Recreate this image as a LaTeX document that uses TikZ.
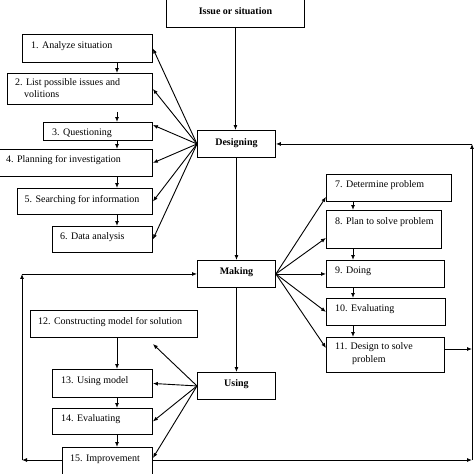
\documentclass[tikz,border=0pt]{standalone}
\usepackage{fontspec}
\setmainfont{Liberation Serif}
\usetikzlibrary{arrows.meta,calc}
\begin{document}
\begin{tikzpicture}[x=1pt,y=-1pt,
  box/.style={draw, line width=0.9pt, inner sep=0pt, anchor=north west},
  txt/.style={inner sep=0pt, anchor=base west, font=\fontsize{10}{12}\selectfont},
  btxt/.style={inner sep=0pt, anchor=base, font=\fontsize{10}{12}\selectfont\bfseries},
  arr/.style={line width=0.9pt, -{Latex[length=5pt,width=4pt]}},
  ln/.style={line width=0.9pt}]
\useasboundingbox (0,0) rectangle (474,474);
% main boxes
\node[box, minimum width=138pt, minimum height=32pt] (issue) at (166,-5) {};
\node[btxt] (tissue) at ($(issue.north)+(0,19)$) {Issue or situation};
\node[box, minimum width=78pt, minimum height=27pt] (des) at (197,130) {};
\node[btxt] (tdes) at ($(des.north)+(0,15)$) {Designing};
\node[box, minimum width=78pt, minimum height=27pt] (mak) at (197,260) {};
\node[btxt] (tmak) at ($(mak.north)+(0,14)$) {Making};
\node[box, minimum width=78pt, minimum height=27pt] (usi) at (197,372) {};
\node[btxt] (tusi) at ($(usi.north)+(0,14)$) {Using};
% designing column
\node[box, minimum width=130pt, minimum height=28pt] (b1) at (22,34) {};
\node[txt] (t1) at ($(b1.north west)+(9,14.5)$) {1. Analyze situation};
\node[box, minimum width=145pt, minimum height=31pt] (b2) at (7,73) {};
\node[txt] (t2) at ($(b2.north west)+(8,12.5)$) {2. List possible issues and};
\node[txt] (t2b) at ($(b2.north west)+(17,24.5)$) {volitions};
\node[box, minimum width=109pt, minimum height=18pt] (b3) at (43,122) {};
\node[txt] (t3) at ($(b3.north west)+(9,13)$) {3. Questioning};
\node[box, minimum width=153pt, minimum height=27pt] (b4) at (-1,149) {};
\node[txt] (t4) at ($(b4.north west)+(7,13)$) {4. Planning for investigation};
\node[box, minimum width=135pt, minimum height=26pt] (b5) at (17,188) {};
\node[txt] (t5) at ($(b5.north west)+(7.5,14)$) {5. Searching for information};
\node[box, minimum width=100pt, minimum height=26pt] (b6) at (52,226) {};
\node[txt] (t6) at ($(b6.north west)+(8,13)$) {6. Data analysis};
% making column
\node[box, minimum width=125pt, minimum height=27pt] (b7) at (326,174) {};
\node[txt] (t7) at ($(b7.north west)+(9,13)$) {7. Determine problem};
\node[box, minimum width=115pt, minimum height=38pt] (b8) at (326,210) {};
\node[txt] (t8) at ($(b8.north west)+(9,14)$) {8. Plan to solve problem};
\node[box, minimum width=118pt, minimum height=27pt] (b9) at (326,260) {};
\node[txt] (t9) at ($(b9.north west)+(9,13)$) {9. Doing};
\node[box, minimum width=119pt, minimum height=27pt] (b10) at (326,298) {};
\node[txt] (t10) at ($(b10.north west)+(9,13)$) {10. Evaluating};
\node[box, minimum width=118pt, minimum height=35pt] (b11) at (326,337) {};
\node[txt] (t11) at ($(b11.north west)+(9,12)$) {11. Design to solve};
\node[txt] (t11b) at ($(b11.north west)+(26,25)$) {problem};
% using column
\node[box, minimum width=167pt, minimum height=27pt] (b12) at (30,310) {};
\node[txt] (t12) at ($(b12.north west)+(8,14)$) {12. Constructing model for solution};
\node[box, minimum width=100pt, minimum height=28pt] (b13) at (52,369) {};
\node[txt] (t13) at ($(b13.north west)+(9,14)$) {13. Using model};
\node[box, minimum width=100pt, minimum height=26pt] (b14) at (52,408) {};
\node[txt] (t14) at ($(b14.north west)+(9,13)$) {14. Evaluating};
\node[box, minimum width=90pt, minimum height=33pt] (b15) at (62,447) {};
\node[txt] (t15) at ($(b15.north west)+(8,14)$) {15. Improvement};
% helper coordinates
\coordinate (lx) at (117,0);
\coordinate (rx) at (353,0);
\coordinate (rbot) at (472,460);
\coordinate (lbot) at (22,460);
\coordinate (rtop) at (des.east -| rbot);
\coordinate (ltop) at (mak.west -| lbot);
\coordinate (c12) at ($(b13.north east)+(0,-25)$);
% main spine
\draw[arr] (issue.south |- issue.south) -- (issue.south |- des.north);
\draw[arr] (des.south) -- (mak.north);
\draw[arr] (mak.south) -- (usi.north);
% designing fan
\draw[arr] (des.west) -- (b1.east);
\draw[arr] (des.west) -- (b2.east);
\draw[arr] (des.west) -- ([yshift=-3pt]b3.north east);
\draw[arr] (des.west) -- (b4.east);
\draw[arr] (des.west) -- (b5.east);
\draw[arr] (des.west) -- (b6.east);
% designing chain
\draw[arr] (b1.south -| lx) -- (b2.north -| lx);
\draw[arr] ($(b2.south -| lx)+(0,7)$) -- (b3.north -| lx);
\draw[arr] (b3.south -| lx) -- (b4.north -| lx);
\draw[arr] (b4.south -| lx) -- (b5.north -| lx);
\draw[arr] (b5.south -| lx) -- (b6.north -| lx);
% making fan
\draw[arr] (mak.east) -- ([yshift=5pt]b7.south west);
\draw[arr] (mak.east) -- ([yshift=11pt]b8.south west);
\draw[arr] (mak.east) -- (b9.west);
\draw[arr] (mak.east) -- (b10.west);
\draw[arr] (mak.east) -- ([yshift=-11pt]b11.north west);
% making chain
\draw[arr] (b7.south -| rx) -- (b8.north -| rx);
\draw[arr] (b8.south -| rx) -- (b9.north -| rx);
\draw[arr] (b9.south -| rx) -- (b10.north -| rx);
\draw[arr] (b10.south -| rx) -- (b11.north -| rx);
% using fan
\draw[arr] (usi.west) -- (c12);
\draw[arr] (usi.west) -- (b13.east);
\draw[arr] (usi.west) -- (b14.east);
\draw[arr] (usi.west) -- ([yshift=-11pt]b15.north east);
% using chain
\draw[arr] (b12.south -| lx) -- (b13.north -| lx);
\draw[arr] (b13.south -| lx) -- (b14.north -| lx);
\draw[arr] (b14.south -| lx) -- (b15.north -| lx);
% feedback loops
\draw[arr] ([yshift=-12pt]b11.north east) -- ([yshift=-12pt]b11.north east -| rbot);
\draw[arr] ([yshift=-13pt]b15.north east) -- (rbot);
\draw[arr] (rbot) -- (rtop);
\draw[arr] (rtop) -- (des.east);
\draw[arr] ([yshift=-13pt]b15.north west) -- (lbot);
\draw[arr] (lbot) -- (ltop);
\draw[arr] (ltop) -- (mak.west);
\end{tikzpicture}
\end{document}
